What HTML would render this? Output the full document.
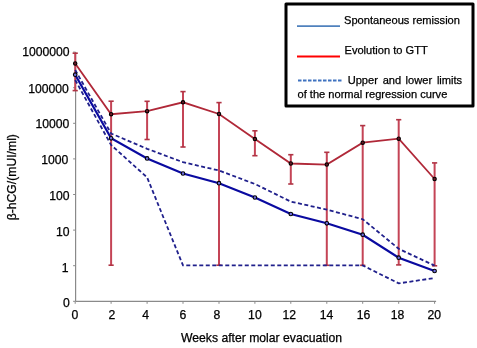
<!DOCTYPE html>
<html><head><meta charset="utf-8"><style>
html,body{margin:0;padding:0;background:#fff;}
body{width:477px;height:348px;overflow:hidden;}
svg{display:block;}
text{font-family:"Liberation Sans",Arial,sans-serif;font-size:12.2px;fill:#000;stroke:#000;stroke-width:0.25px;}
text.lg{font-size:11.1px;}
</style></head><body>
<svg width="477" height="348" viewBox="0 0 477 348">
<line x1="75.6" y1="301.3" x2="75.6" y2="52" stroke="#8a8a8a" stroke-width="1.2"/>
<line x1="75.6" y1="301.3" x2="436.09999999999997" y2="301.3" stroke="#8a8a8a" stroke-width="1.2"/>
<line x1="73.1" y1="301.3" x2="75.6" y2="301.3" stroke="#8a8a8a" stroke-width="1"/>
<text x="69.7" y="306.9" text-anchor="end">0</text>
<line x1="73.1" y1="265.7" x2="75.6" y2="265.7" stroke="#8a8a8a" stroke-width="1"/>
<text x="68.5" y="271.7" text-anchor="end">1</text>
<line x1="73.1" y1="230.1" x2="75.6" y2="230.1" stroke="#8a8a8a" stroke-width="1"/>
<text x="69.5" y="235.55" text-anchor="end">10</text>
<line x1="73.1" y1="194.5" x2="75.6" y2="194.5" stroke="#8a8a8a" stroke-width="1"/>
<text x="69.5" y="200.15" text-anchor="end">100</text>
<line x1="73.1" y1="158.9" x2="75.6" y2="158.9" stroke="#8a8a8a" stroke-width="1"/>
<text x="68.4" y="163.8" text-anchor="end">1000</text>
<line x1="73.1" y1="123.3" x2="75.6" y2="123.3" stroke="#8a8a8a" stroke-width="1"/>
<text x="69.3" y="127.6" text-anchor="end">10000</text>
<line x1="73.1" y1="87.7" x2="75.6" y2="87.7" stroke="#8a8a8a" stroke-width="1"/>
<text x="68.8" y="92.7" text-anchor="end">100000</text>
<line x1="73.1" y1="52.1" x2="75.6" y2="52.1" stroke="#8a8a8a" stroke-width="1"/>
<text x="69.6" y="56.35" text-anchor="end">1000000</text>
<line x1="75.2" y1="301.3" x2="75.2" y2="303.8" stroke="#8a8a8a" stroke-width="1"/>
<text x="74.85" y="319.1" text-anchor="middle">0</text>
<line x1="111.1" y1="301.3" x2="111.1" y2="303.8" stroke="#8a8a8a" stroke-width="1"/>
<text x="112" y="319.1" text-anchor="middle">2</text>
<line x1="147.1" y1="301.3" x2="147.1" y2="303.8" stroke="#8a8a8a" stroke-width="1"/>
<text x="145.7" y="319.1" text-anchor="middle">4</text>
<line x1="183.0" y1="301.3" x2="183.0" y2="303.8" stroke="#8a8a8a" stroke-width="1"/>
<text x="183" y="319.1" text-anchor="middle">6</text>
<line x1="219.0" y1="301.3" x2="219.0" y2="303.8" stroke="#8a8a8a" stroke-width="1"/>
<text x="217" y="319.1" text-anchor="middle">8</text>
<line x1="254.9" y1="301.3" x2="254.9" y2="303.8" stroke="#8a8a8a" stroke-width="1"/>
<text x="254.9" y="319.1" text-anchor="middle">10</text>
<line x1="290.8" y1="301.3" x2="290.8" y2="303.8" stroke="#8a8a8a" stroke-width="1"/>
<text x="289.3" y="319.1" text-anchor="middle">12</text>
<line x1="326.8" y1="301.3" x2="326.8" y2="303.8" stroke="#8a8a8a" stroke-width="1"/>
<text x="326.5" y="319.1" text-anchor="middle">14</text>
<line x1="362.7" y1="301.3" x2="362.7" y2="303.8" stroke="#8a8a8a" stroke-width="1"/>
<text x="363.6" y="319.1" text-anchor="middle">16</text>
<line x1="398.7" y1="301.3" x2="398.7" y2="303.8" stroke="#8a8a8a" stroke-width="1"/>
<text x="397.5" y="319.1" text-anchor="middle">18</text>
<line x1="434.6" y1="301.3" x2="434.6" y2="303.8" stroke="#8a8a8a" stroke-width="1"/>
<text x="434.3" y="319.1" text-anchor="middle">20</text>
<line x1="75.2" y1="53.2" x2="75.2" y2="90.6" stroke="#c44456" stroke-width="2"/>
<line x1="72.6" y1="53.2" x2="77.8" y2="53.2" stroke="#b03444" stroke-width="1.6"/>
<line x1="72.6" y1="90.6" x2="77.8" y2="90.6" stroke="#b03444" stroke-width="1.6"/>
<line x1="111.1" y1="101.2" x2="111.1" y2="265.2" stroke="#c44456" stroke-width="2"/>
<line x1="108.5" y1="101.2" x2="113.7" y2="101.2" stroke="#b03444" stroke-width="1.6"/>
<line x1="108.5" y1="265.2" x2="113.7" y2="265.2" stroke="#b03444" stroke-width="1.6"/>
<line x1="147.1" y1="101.3" x2="147.1" y2="139.5" stroke="#c44456" stroke-width="2"/>
<line x1="144.5" y1="101.3" x2="149.7" y2="101.3" stroke="#b03444" stroke-width="1.6"/>
<line x1="144.5" y1="139.5" x2="149.7" y2="139.5" stroke="#b03444" stroke-width="1.6"/>
<line x1="183.0" y1="91.6" x2="183.0" y2="147.0" stroke="#c44456" stroke-width="2"/>
<line x1="180.4" y1="91.6" x2="185.6" y2="91.6" stroke="#b03444" stroke-width="1.6"/>
<line x1="180.4" y1="147.0" x2="185.6" y2="147.0" stroke="#b03444" stroke-width="1.6"/>
<line x1="219.0" y1="102.6" x2="219.0" y2="265.2" stroke="#c44456" stroke-width="2"/>
<line x1="216.4" y1="102.6" x2="221.6" y2="102.6" stroke="#b03444" stroke-width="1.6"/>
<line x1="216.4" y1="265.2" x2="221.6" y2="265.2" stroke="#b03444" stroke-width="1.6"/>
<line x1="254.9" y1="130.8" x2="254.9" y2="155.7" stroke="#c44456" stroke-width="2"/>
<line x1="252.3" y1="130.8" x2="257.5" y2="130.8" stroke="#b03444" stroke-width="1.6"/>
<line x1="252.3" y1="155.7" x2="257.5" y2="155.7" stroke="#b03444" stroke-width="1.6"/>
<line x1="290.8" y1="154.7" x2="290.8" y2="184.0" stroke="#c44456" stroke-width="2"/>
<line x1="288.2" y1="154.7" x2="293.4" y2="154.7" stroke="#b03444" stroke-width="1.6"/>
<line x1="288.2" y1="184.0" x2="293.4" y2="184.0" stroke="#b03444" stroke-width="1.6"/>
<line x1="326.8" y1="152.3" x2="326.8" y2="265.3" stroke="#c44456" stroke-width="2"/>
<line x1="324.2" y1="152.3" x2="329.4" y2="152.3" stroke="#b03444" stroke-width="1.6"/>
<line x1="324.2" y1="265.3" x2="329.4" y2="265.3" stroke="#b03444" stroke-width="1.6"/>
<line x1="362.7" y1="125.6" x2="362.7" y2="265.3" stroke="#c44456" stroke-width="2"/>
<line x1="360.1" y1="125.6" x2="365.3" y2="125.6" stroke="#b03444" stroke-width="1.6"/>
<line x1="360.1" y1="265.3" x2="365.3" y2="265.3" stroke="#b03444" stroke-width="1.6"/>
<line x1="398.7" y1="119.7" x2="398.7" y2="264.9" stroke="#c44456" stroke-width="2"/>
<line x1="396.1" y1="119.7" x2="401.3" y2="119.7" stroke="#b03444" stroke-width="1.6"/>
<line x1="396.1" y1="264.9" x2="401.3" y2="264.9" stroke="#b03444" stroke-width="1.6"/>
<line x1="434.6" y1="162.9" x2="434.6" y2="265.8" stroke="#c44456" stroke-width="2"/>
<line x1="432.0" y1="162.9" x2="437.2" y2="162.9" stroke="#b03444" stroke-width="1.6"/>
<line x1="432.0" y1="265.8" x2="437.2" y2="265.8" stroke="#b03444" stroke-width="1.6"/>
<polyline points="75.2,63.5 111.1,114.2 147.1,111.2 183.0,102.3 219.0,114.0 254.9,139.1 290.8,163.5 326.8,164.6 362.7,142.7 398.7,138.7 434.6,179.0" fill="none" stroke="#b02838" stroke-width="1.8"/>
<polyline points="75.2,70.0 111.1,133.5 147.1,148.8 183.0,162.2 219.0,170.5 254.9,184.0 290.8,201.6 326.8,209.6 362.7,219.2 398.7,248.8 434.6,265.6" fill="none" stroke="#20208c" stroke-width="1.8" stroke-dasharray="4 2.5"/>
<polyline points="75.2,80.0 111.1,145.0 147.1,177.4 183.0,265.4 219.0,265.4 254.9,265.4 290.8,265.4 326.8,265.4 362.7,265.4 398.7,283.4 434.6,278.0" fill="none" stroke="#20208c" stroke-width="1.8" stroke-dasharray="4 2.5"/>
<polyline points="75.2,74.7 111.1,138.3 147.1,158.4 183.0,173.5 219.0,183.2 254.9,197.5 290.8,214.0 326.8,223.3 362.7,234.7 398.7,257.7 434.6,271.0" fill="none" stroke="#0a0aa0" stroke-width="2.2"/>
<circle cx="75.2" cy="74.7" r="1.8" fill="#7070e0" stroke="#000" stroke-width="1.1"/>
<circle cx="111.1" cy="138.3" r="1.8" fill="#7070e0" stroke="#000" stroke-width="1.1"/>
<circle cx="147.1" cy="158.4" r="1.8" fill="#7070e0" stroke="#000" stroke-width="1.1"/>
<circle cx="183.0" cy="173.5" r="1.8" fill="#7070e0" stroke="#000" stroke-width="1.1"/>
<circle cx="219.0" cy="183.2" r="1.8" fill="#7070e0" stroke="#000" stroke-width="1.1"/>
<circle cx="254.9" cy="197.5" r="1.8" fill="#7070e0" stroke="#000" stroke-width="1.1"/>
<circle cx="290.8" cy="214.0" r="1.8" fill="#7070e0" stroke="#000" stroke-width="1.1"/>
<circle cx="326.8" cy="223.3" r="1.8" fill="#7070e0" stroke="#000" stroke-width="1.1"/>
<circle cx="362.7" cy="234.7" r="1.8" fill="#7070e0" stroke="#000" stroke-width="1.1"/>
<circle cx="398.7" cy="257.7" r="1.8" fill="#7070e0" stroke="#000" stroke-width="1.1"/>
<circle cx="434.6" cy="271.0" r="1.8" fill="#7070e0" stroke="#000" stroke-width="1.1"/>
<circle cx="75.2" cy="63.5" r="1.7" fill="#701828" stroke="#000" stroke-width="1.1"/>
<circle cx="111.1" cy="114.2" r="1.7" fill="#701828" stroke="#000" stroke-width="1.1"/>
<circle cx="147.1" cy="111.2" r="1.7" fill="#701828" stroke="#000" stroke-width="1.1"/>
<circle cx="183.0" cy="102.3" r="1.7" fill="#701828" stroke="#000" stroke-width="1.1"/>
<circle cx="219.0" cy="114.0" r="1.7" fill="#701828" stroke="#000" stroke-width="1.1"/>
<circle cx="254.9" cy="139.05" r="1.7" fill="#701828" stroke="#000" stroke-width="1.1"/>
<circle cx="290.8" cy="163.5" r="1.7" fill="#701828" stroke="#000" stroke-width="1.1"/>
<circle cx="326.8" cy="164.6" r="1.7" fill="#701828" stroke="#000" stroke-width="1.1"/>
<circle cx="362.7" cy="142.7" r="1.7" fill="#701828" stroke="#000" stroke-width="1.1"/>
<circle cx="398.7" cy="138.7" r="1.7" fill="#701828" stroke="#000" stroke-width="1.1"/>
<circle cx="434.6" cy="179.0" r="1.7" fill="#701828" stroke="#000" stroke-width="1.1"/>
<rect x="286" y="3.9" width="187" height="102.2" fill="#fff" stroke="#000" stroke-width="3" stroke-linejoin="round"/>
<line x1="297" y1="26.2" x2="340" y2="26.2" stroke="#4F81BD" stroke-width="1.7"/>
<line x1="297" y1="56.5" x2="340" y2="56.5" stroke="#ff0000" stroke-width="1.8"/>
<line x1="298" y1="80.6" x2="343" y2="80.6" stroke="#3f72c0" stroke-width="2" stroke-dasharray="3.5 1.5"/>
<text class="lg" x="344" y="23.5">Spontaneous remission</text>
<text class="lg" x="344.5" y="54">Evolution to GTT</text>
<text class="lg" x="347.7" y="84">Upper</text>
<text class="lg" x="382.7" y="84">and</text>
<text class="lg" x="405.6" y="84">lower</text>
<text class="lg" x="436.9" y="84">limits</text>
<text class="lg" x="297.5" y="97.8">of the normal regression curve</text>
<text x="181" y="342.2">Weeks after molar evacuation</text>
<text transform="translate(15.9,220.3) rotate(-90)">β-hCG/(mUI/ml)</text>
</svg>
</body></html>
